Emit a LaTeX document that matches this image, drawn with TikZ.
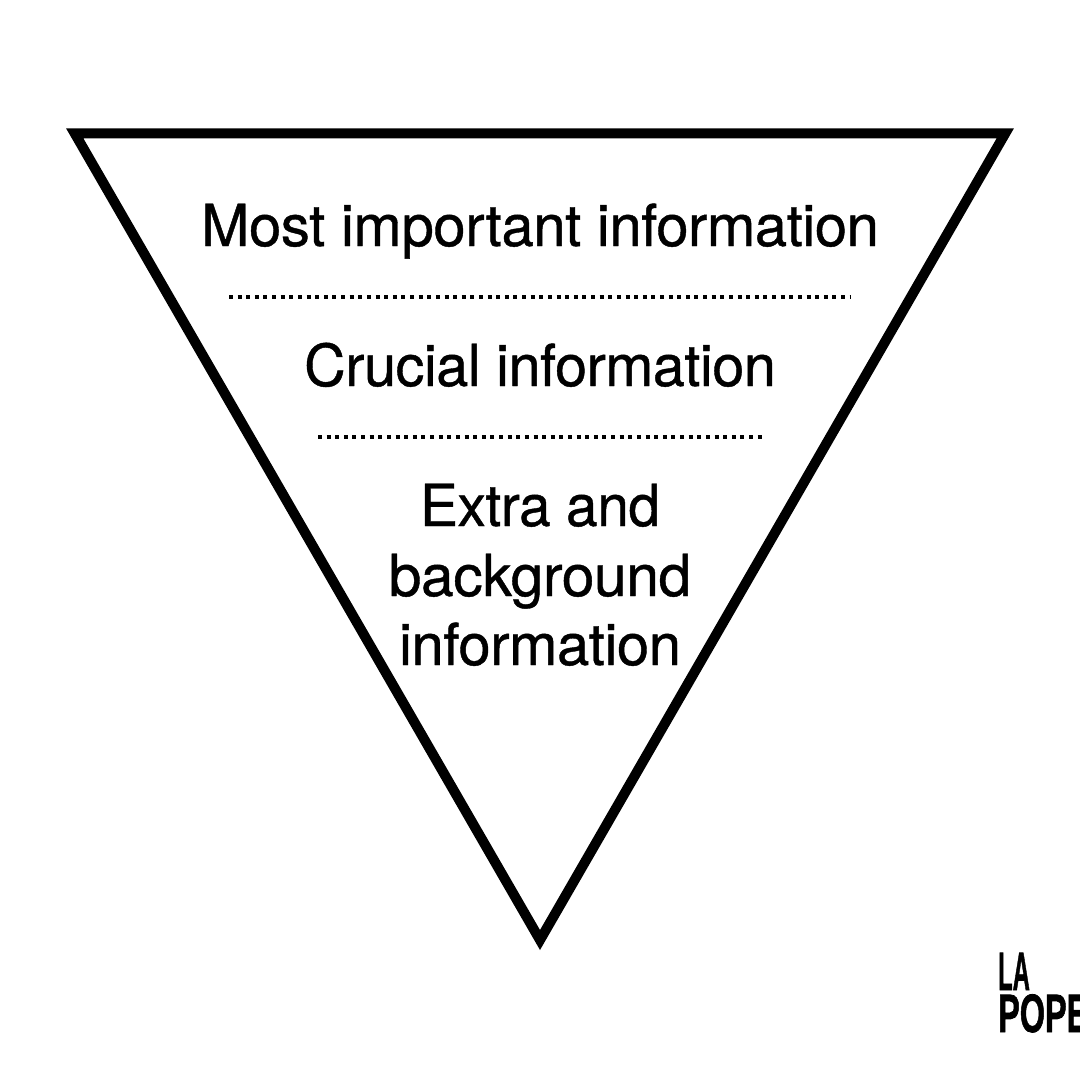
\documentclass[tikz,border=0pt]{standalone}
\usepackage{fontspec}
\usepackage{graphicx}
\setmainfont[LetterSpace=-0.75,FakeBold=0.7]{TeX Gyre Heros}
\newfontfamily\logofont[FakeBold=1.5]{Liberation Sans Bold}
\tikzset{
  px/.style={x=1pt,y=-1pt},
  funnel/.style={draw=black,line width=10pt,miter limit=10,line join=miter},
  sep/.style={draw=black,line width=4pt,dash pattern=on 4pt off 4.62pt},
  lbl/.style={anchor=base,inner sep=0pt,font=\fontsize{58}{58}\selectfont,text=black},
  logo/.style={anchor=base west,inner sep=0pt,text=black,font=\logofont\fontsize{54}{54}\selectfont}
}
\begin{document}
\begin{tikzpicture}[px]
\useasboundingbox (0,0) rectangle (1080,1080);
\fill[white] (0,0) rectangle (1080,1080);
\coordinate (tl) at (74.7,133.3);
\coordinate (tr) at (1005.3,133.3);
\coordinate (b) at (540,940);
\draw[funnel] (tl) -- (tr) -- (b) -- cycle;
\coordinate (s1a) at (229,297);
\coordinate (s1b) at (851,297);
\coordinate (s2a) at (318,437);
\coordinate (s2b) at (762,437);
\draw[sep] (s1a) -- (s1b);
\draw[sep] (s2a) -- (s2b);
\node[lbl] (t1) at (540,246) {Most important information};
\node[lbl] (t2) at (540,386) {\scalebox{0.992}[1]{Crucial information}};
\node[lbl] (t3) at (540,526) {\scalebox{0.98}[1]{Extra and}};
\node[lbl] (t4) at (540,596) {\scalebox{1.014}[1]{background}};
\node[lbl] (t5) at (540,665) {information};
\node[logo] (l1) at (998,990) {\scalebox{0.44}[1]{LA}};
\node[logo] (l2) at (998,1032) {\scalebox{0.6}[1]{POPE}};
\end{tikzpicture}
\end{document}
